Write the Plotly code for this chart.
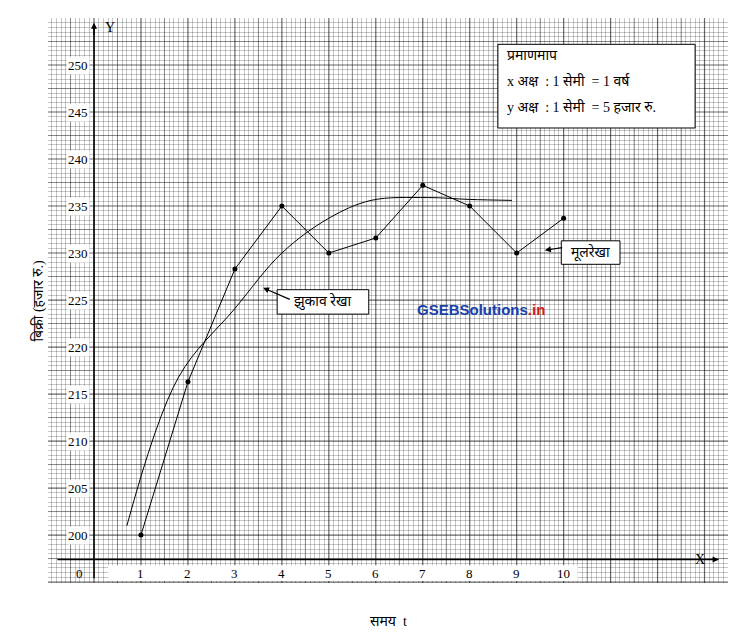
import plotly.graph_objects as go

years = [1, 2, 3, 4, 5, 6, 7, 8, 9, 10]
sales = [200, 216.3, 228.3, 235, 230, 231.6, 237.2, 235, 230, 233.7]
trend_x = [0.7, 1.8, 3.0, 4.0, 5.0, 5.9, 7.1, 8.0, 8.9]
trend_y = [201, 216.8, 224.1, 230, 233.7, 235.6, 235.9, 235.7, 235.6]
x_ticks = [1, 2, 3, 4, 5, 6, 7, 8, 9, 10]
y_ticks = [200, 205, 210, 215, 220, 225, 230, 235, 240, 245, 250]

X0, X1, Y0, Y1 = -0.98, 13.5, 194.9, 255.0
XAXIS_Y = 197.4
font = "Liberation Serif, Noto Sans, serif"

fig = go.Figure()
fig.add_trace(go.Scatter(x=trend_x, y=trend_y, mode="lines", line=dict(color="black", width=1, shape="spline"), hoverinfo="skip"))
fig.add_trace(go.Scatter(x=years, y=sales, mode="lines+markers", line=dict(color="black", width=1), marker=dict(size=5, color="black"), hoverinfo="skip"))

for i in range(int(X0*2)-1, int(X1*2)+2):
    v = i/2
    if X0 < v < X1:
        fig.add_shape(type="line", xref="x", yref="paper", x0=v, x1=v, y0=0, y1=1, line=dict(color="rgba(0,0,0,0.6)" if i % 2 == 0 else "rgba(0,0,0,0.4)", width=1.2 if i % 2 == 0 else 0.8), layer="below")
for i in range(int(Y0/2.5)-1, int(Y1/2.5)+2):
    v = i*2.5
    if Y0 < v < Y1:
        fig.add_shape(type="line", xref="paper", yref="y", y0=v, y1=v, x0=0, x1=1, line=dict(color="rgba(0,0,0,0.6)" if i % 2 == 0 else "rgba(0,0,0,0.4)", width=1.2 if i % 2 == 0 else 0.8), layer="below")
fig.add_shape(type="line", xref="x", yref="y", x0=0, x1=0, y0=Y0+0.5, y1=Y1-1, line=dict(color="black", width=1.5))
fig.add_shape(type="line", xref="x", yref="y", x0=X0+0.2, x1=13.3, y0=XAXIS_Y, y1=XAXIS_Y, line=dict(color="black", width=1.5))
fig.add_shape(type="rect", xref="x", yref="y", x0=8.6, x1=12.8, y0=243.3, y1=252.2, fillcolor="white", line=dict(color="black", width=1))
fig.add_shape(type="rect", xref="x", yref="y", x0=3.9, x1=5.85, y0=223.5, y1=226.1, fillcolor="white", line=dict(color="black", width=1))
fig.add_shape(type="rect", xref="x", yref="y", x0=9.95, x1=11.2, y0=228.8, y1=231.3, fillcolor="white", line=dict(color="black", width=1))
fig.add_shape(type="rect", xref="x", yref="y", x0=0.3, x1=10.3, y0=XAXIS_Y-2.3, y1=XAXIS_Y-0.6, fillcolor="white", line=dict(width=0))

def txt(x, y, s, **kw):
    f = dict(family=font, size=kw.pop("size", 14), color="black")
    fig.add_annotation(x=x, y=y, text=s, showarrow=False, font=f, **kw)

for t in x_ticks:
    txt(t, XAXIS_Y-1.5, str(t), size=13)
for t in y_ticks:
    txt(-0.35, t, str(t), size=13, bgcolor="white")
txt(-0.3, XAXIS_Y-1.5, "0", size=13)
txt(12.9, XAXIS_Y, "X")
txt(0.35, Y1-1.0, "Y")
txt(8.75, 251.0, "प्रमाणमाप", xanchor="left")
txt(8.75, 248.3, "x अक्ष  : 1 सेमी  = 1 वर्ष", xanchor="left")
txt(8.75, 245.6, "y अक्ष  : 1 सेमी  = 5 हजार रु.", xanchor="left")
txt(4.87, 224.8, "झुकाव रेखा")
txt(10.57, 230.05, "मूलरेखा")
txt(-0.03, 0.5, "बिक्री (हजार रु.)", xref="paper", yref="paper", textangle=-90)
txt(0.5, -0.085, "समय  t", xref="paper", yref="paper")
fig.add_annotation(x=8.25, y=224.0, text="<b><span style='color:#1a3fa8'>GSEBSolutions</span><span style='color:#d02020'>.in</span></b>", showarrow=False, font=dict(family="Liberation Sans, sans-serif", size=15))
for (x, y, ax, ay) in [(3.6, 226.3, 4.2, 225.0), (9.6, 230.3, 10.0, 230.6), (13.3, XAXIS_Y, 12.9, XAXIS_Y), (0, Y1-0.5, 0, Y1-2)]:
    fig.add_annotation(x=x, y=y, ax=ax, ay=ay, axref="x", ayref="y", text="", showarrow=True, arrowhead=2, arrowsize=1, arrowwidth=1.2, arrowcolor="black")

fig.update_layout(
    width=752, height=633, margin=dict(l=40, r=32, t=10, b=58, autoexpand=False),
    paper_bgcolor="white", plot_bgcolor="white", showlegend=False,
    xaxis=dict(range=[X0, X1], showticklabels=False, zeroline=False, showgrid=False,
               minor=dict(dtick=0.1, showgrid=True, gridcolor="rgba(0,0,0,0.22)", gridwidth=0.5), dtick=1, ticks=""),
    yaxis=dict(range=[Y0, Y1], showticklabels=False, zeroline=False, showgrid=False,
               minor=dict(dtick=0.5, showgrid=True, gridcolor="rgba(0,0,0,0.22)", gridwidth=0.5), dtick=5, ticks=""),
)
fig.write_html("out.html")
